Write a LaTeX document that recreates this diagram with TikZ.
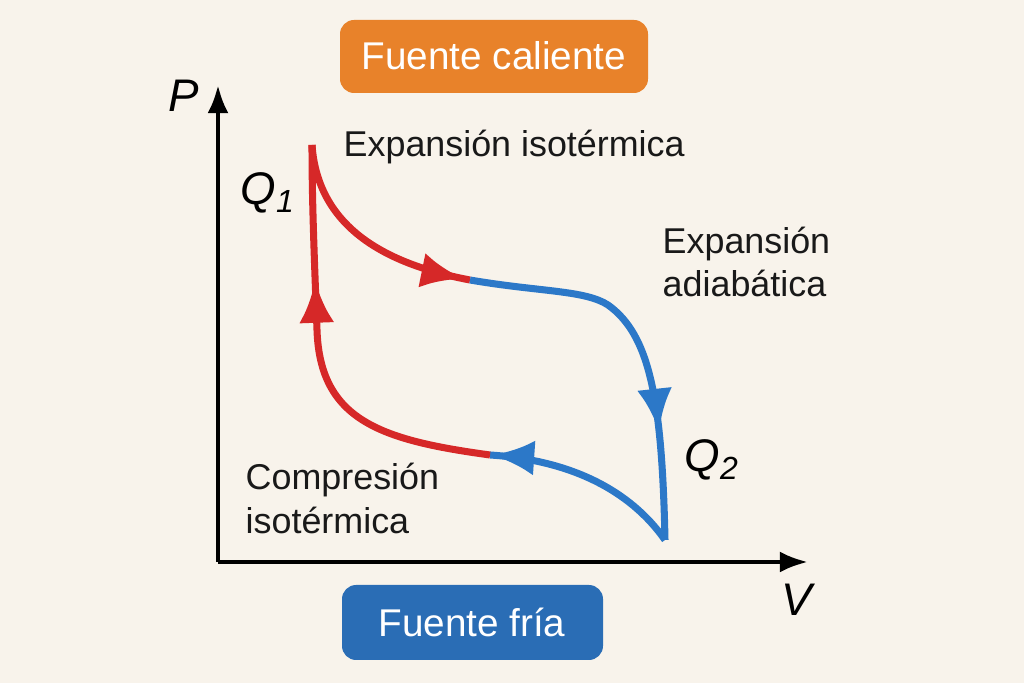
\documentclass[tikz,border=0pt]{standalone}
\usepackage{fontspec}
\setmainfont{Liberation Sans}
\usetikzlibrary{arrows.meta,decorations.markings}
\definecolor{bg}{HTML}{F8F3EB}
\definecolor{hot}{HTML}{E8822A}
\definecolor{cold}{HTML}{2A6DB5}
\definecolor{rd}{HTML}{D62828}
\definecolor{bl}{HTML}{2C78C8}
\begin{document}
\begin{tikzpicture}[x=0.01cm,y=-0.01cm,
  box/.style={rounded corners=3pt,text=white,font=\fontsize{11}{13}\selectfont,inner sep=0pt},
  lbl/.style={font=\fontsize{10.2}{12.5}\selectfont,text=black!90,align=left,inner sep=0pt},
  curve/.style={line width=2pt},
  mark/.style={postaction={decorate,decoration={markings,mark=at position #1 with {\arrow{Latex[length=12pt,width=10pt]}}}}},
  ax/.style={line width=1.3pt,-{Latex[length=8pt,width=6pt]}}]
\fill[bg] (0,0) rectangle (1024,683);
\useasboundingbox (0,0) rectangle (1024,683);
\fill[hot,rounded corners=4pt] (340,20) rectangle (648,93);
\node[box] (hot) at (494,56) {Fuente caliente};
\fill[cold,rounded corners=4pt] (342,585) rectangle (603,660);
\node[box] (cold) at (472,622) {Fuente fría};
\coordinate (O) at (218,562);
\coordinate (Ptop) at (218,85);
\coordinate (Vend) at (808,562);
\draw[ax] (O) -- (Ptop);
\draw[ax] (O) -- (Vend);
\node[font=\fontsize{13}{15}\selectfont\itshape] (P) at (184,96) {P};
\node[font=\fontsize{13}{15}\selectfont\itshape] (V) at (797,600) {V};
\coordinate (A) at (312,145);
\coordinate (B) at (470,280);
\coordinate (C) at (665,540);
\coordinate (D) at (490,455);
\draw[rd,curve,mark=0.97] (A) .. controls (318,230) and (390,265) .. (B);
\draw[bl,curve,mark=0.72] (B) .. controls (540,292) and (585,290) .. (608,305) .. controls (650,335) and (662,400) .. (C);
\draw[bl,curve,mark=0.99] (C) .. controls (630,490) and (570,460) .. (D);
\draw[rd,curve,mark=0.68] (D) .. controls (380,440) and (320,420) .. (317,330) .. controls (314,250) and (312,200) .. (A);
\node[lbl,anchor=west] (t1) at (343,147) {Expansión isotérmica};
\node[font=\fontsize{13}{15}\selectfont\itshape] (Q1) at (268,193) {Q\textsubscript{1}};
\node[lbl,anchor=west] (t2) at (662,262) {Expansión\\adiabática};
\node[font=\fontsize{13}{15}\selectfont\itshape] (Q2) at (712,460) {Q\textsubscript{2}};
\node[lbl,anchor=west] (t3) at (245,498) {Compresión\\isotérmica};
\end{tikzpicture}
\end{document}
